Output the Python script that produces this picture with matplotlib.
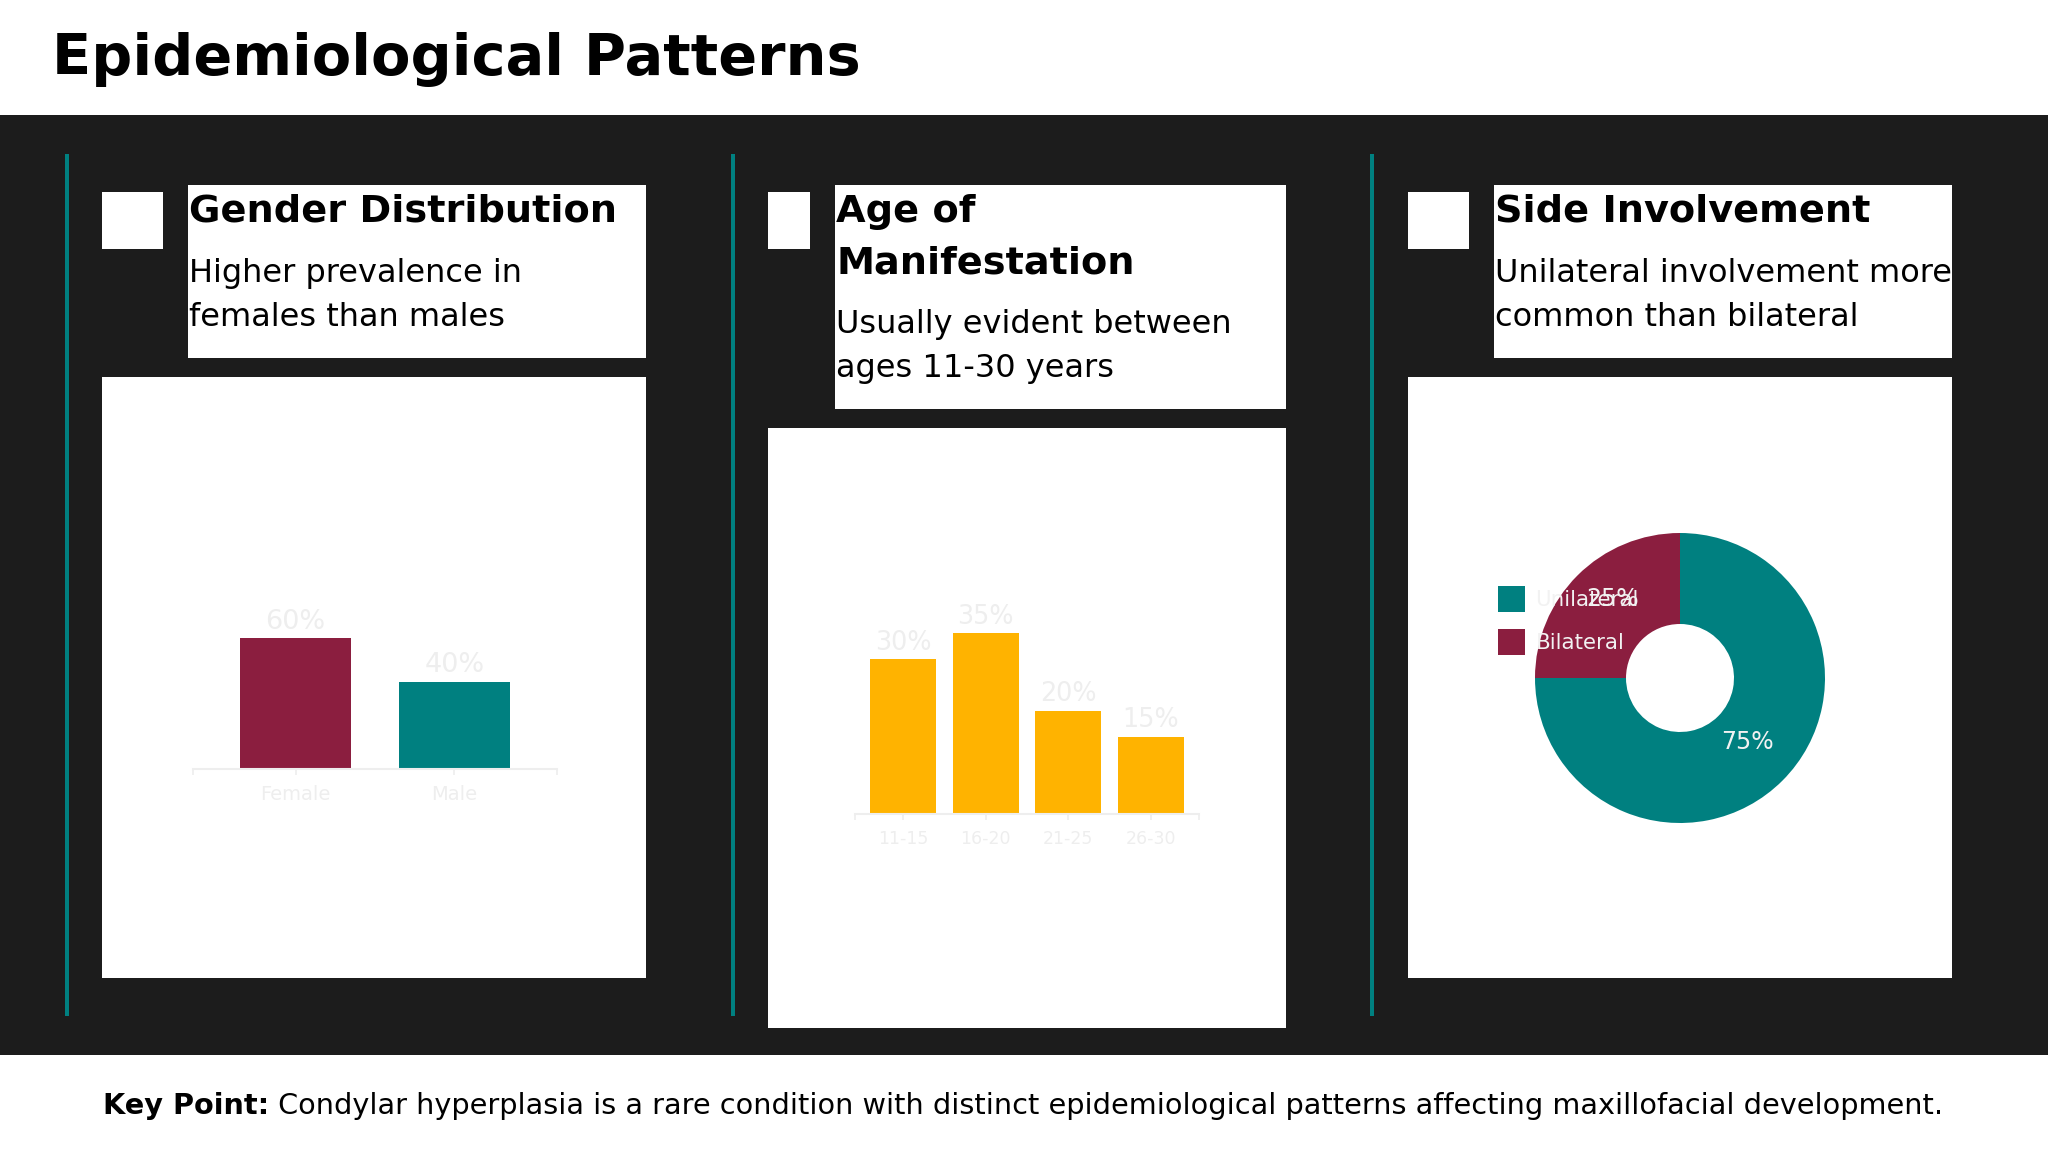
import matplotlib
matplotlib.use('Agg')
import matplotlib.pyplot as plt
from matplotlib.patches import Rectangle

W, H = 2048, 1152

# chart data
gender_labels = ['Female', 'Male']
gender_values = [60, 40]
gender_colors = ['#8B1E3F', '#008080']

age_labels = ['11-15', '16-20', '21-25', '26-30']
age_values = [30, 35, 20, 15]
age_color = '#FFB300'

side_labels = ['Unilateral', 'Bilateral']
side_values = [75, 25]
side_colors = ['#008080', '#8B1E3F']

page_title = 'Epidemiological Patterns'
panel_titles = [['Gender Distribution'], ['Age of', 'Manifestation'], ['Side Involvement']]
panel_texts = [['Higher prevalence in', 'females than males'],
               ['Usually evident between', 'ages 11-30 years'],
               ['Unilateral involvement more', 'common than bilateral']]
key_label = 'Key Point:'
key_text = (' Condylar hyperplasia is a rare condition with distinct '
            'epidemiological patterns affecting maxillofacial development.')

DARK = '#1c1c1c'
TEAL = '#008080'
FAINT = '#eeeeee'


def fx(x):
    return x / W


def fy(y):
    return 1 - y / H


def rect(x0, y0, x1, y1, color, z=-5):
    fig.add_artist(Rectangle((fx(x0), fy(y1)), (x1 - x0) / W, (y1 - y0) / H,
                             transform=fig.transFigure, facecolor=color,
                             edgecolor='none', zorder=z))


def axes_px(x0, y0, x1, y1):
    return fig.add_axes([fx(x0), fy(y1), (x1 - x0) / W, (y1 - y0) / H])


fig = plt.figure(figsize=(W / 100, H / 100), dpi=100, facecolor='white')

# title + dark band
fig.text(fx(52), fy(75), page_title, fontsize=41.3, fontweight='bold',
         color='black', va='baseline')
rect(0, 115, W, 1055, DARK, z=-10)

# panel frames
teal_x = [65, 731, 1370]
icons = [(102, 192, 163, 249), (768, 192, 810, 249), (1408, 192, 1469, 249)]
headers = [(188, 185, 646, 358), (835, 185, 1286, 409), (1494, 185, 1952, 358)]
chart_boxes = [(102, 377, 646, 978), (768, 428, 1286, 1028), (1408, 377, 1952, 978)]

for i in range(3):
    rect(teal_x[i], 154, teal_x[i] + 4, 1016, TEAL)
    rect(*icons[i], 'white')
    rect(*headers[i], 'white')
    rect(*chart_boxes[i], 'white')
    x_text = headers[i][0] + 1
    y = 222
    for line in panel_titles[i]:
        fig.text(fx(x_text), fy(y), line, fontsize=27.5, fontweight='bold',
                 color='black', va='baseline')
        y += 51
    y += 60 - 51
    for line in panel_texts[i]:
        fig.text(fx(x_text), fy(y), line, fontsize=23, color='black',
                 va='baseline')
        y += 44


def style_bar_axes(ax, lab_size, pad):
    ax.set_facecolor('none')
    for s in ['top', 'right', 'left']:
        ax.spines[s].set_visible(False)
    ax.spines['bottom'].set_color(FAINT)
    ax.spines['bottom'].set_linewidth(1.5)
    ax.set_yticks([])
    ax.tick_params(axis='x', which='both', colors=FAINT, length=4.5,
                   width=1.2, labelsize=lab_size, pad=pad, labelcolor=FAINT)
    lo, hi = ax.get_xlim()
    ax.set_xticks([lo, hi], minor=True)


# gender bar chart
ax1 = axes_px(193, 769 - 80 * 2.18, 557, 769)
x1 = range(len(gender_values))
bars1 = ax1.bar(x1, gender_values, width=0.7, color=gender_colors)
ax1.set_xlim(-0.645, 1.645)
ax1.set_ylim(0, 80)
ax1.set_xticks(list(x1), gender_labels)
style_bar_axes(ax1, 14, 7)
ax1.bar_label(bars1, labels=[f'{v}%' for v in gender_values], padding=2.5,
              fontsize=19.5, color=FAINT)

# age bar chart
ax2 = axes_px(855, 814 - 40 * 5.16, 1199, 814)
x2 = range(len(age_values))
bars2 = ax2.bar(x2, age_values, width=0.8, color=age_color)
ax2.set_xlim(-0.58, 3.58)
ax2.set_ylim(0, 40)
ax2.set_xticks(list(x2), age_labels)
style_bar_axes(ax2, 12.5, 7)
ax2.bar_label(bars2, labels=[f'{v}%' for v in age_values], padding=2.5,
              fontsize=18.4, color=FAINT)

# side involvement donut
cx, cy, r = 1680, 678, 145
ax3 = axes_px(cx - r, cy - r, cx + r, cy + r)
wedges, _, autotexts = ax3.pie(side_values, colors=side_colors, startangle=90,
                               counterclock=False, radius=1,
                               autopct='%d%%', pctdistance=0.66,
                               wedgeprops=dict(width=1 - 54 / 145),
                               textprops=dict(color='#f2f2f2', fontsize=17))
# nudge the percentage labels slightly upward like the original
for t, dy in zip(autotexts, [0.025, 0.08]):
    px, py = t.get_position()
    t.set_position((px, py + dy))
ax3.set_xlim(-1, 1)
ax3.set_ylim(-1, 1)
ax3.set_aspect('equal')
ax3.legend(wedges, side_labels, loc='upper left',
           bbox_to_anchor=(fx(1498), fy(586)), bbox_transform=fig.transFigure,
           frameon=False, fontsize=15.4, labelcolor='#f2f2f2',
           handlelength=1.25, handleheight=1.52, handletextpad=0.5,
           labelspacing=0.76, borderpad=0, borderaxespad=0)

# footer key point, centred as one line
t1 = fig.text(0, fy(1114), key_label, fontsize=20.7, fontweight='bold',
              color='black', va='baseline')
t2 = fig.text(0, fy(1114), key_text, fontsize=20.7, color='black', va='baseline')
renderer = fig.canvas.get_renderer()
w1 = t1.get_window_extent(renderer).width
w2 = t2.get_window_extent(renderer).width
start = 1023 - (w1 + w2) / 2
t1.set_x(fx(start))
t2.set_x(fx(start + w1))

fig.savefig('out.png', dpi=100, facecolor='white')
